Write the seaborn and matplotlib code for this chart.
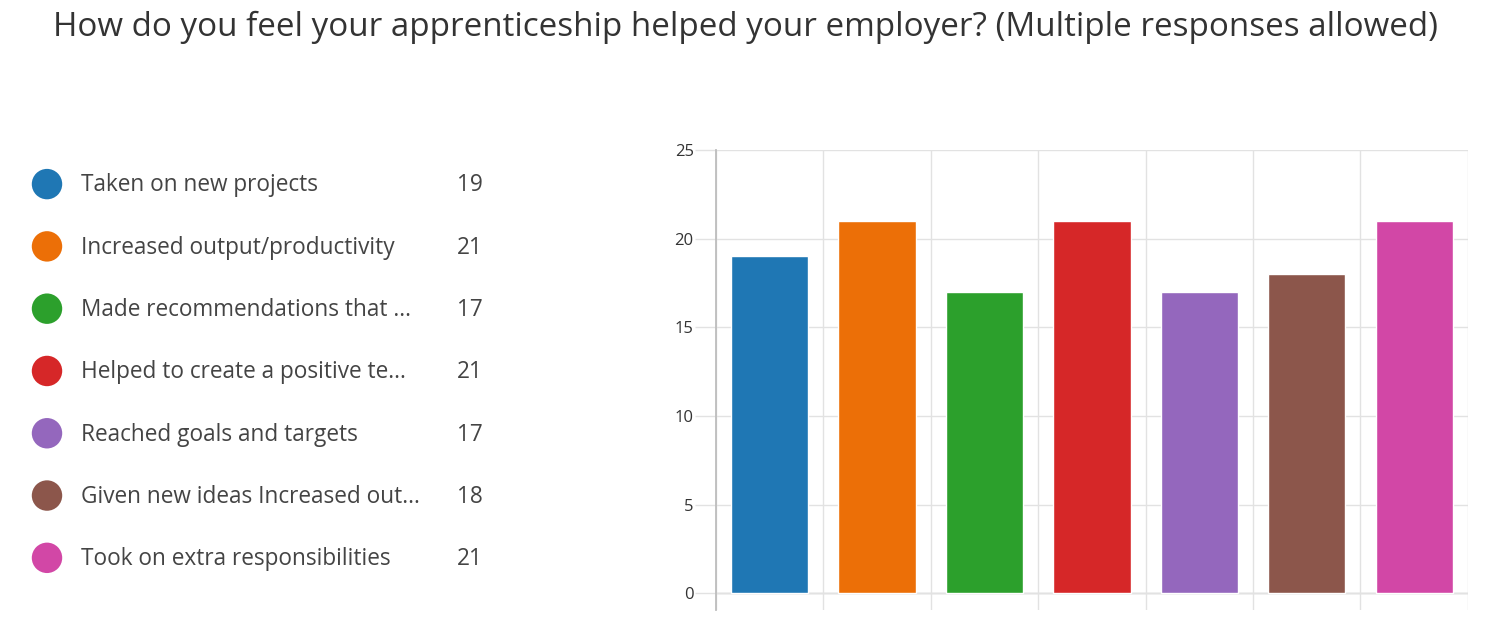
import pandas as pd
import matplotlib.pyplot as plt
import seaborn as sns

sns.set_style('white')
plt.rcParams['font.family'] = ['Open Sans', 'DejaVu Sans']

title = 'How do you feel your apprenticeship helped your employer? (Multiple responses allowed)'
labels = ['Taken on new projects', 'Increased output/productivity', 'Made recommendations that ...',
          'Helped to create a positive te...', 'Reached goals and targets',
          'Given new ideas Increased out...', 'Took on extra responsibilities']
counts = [19, 21, 17, 21, 17, 18, 21]
colors = ['#1f77b4', '#ec6f07', '#2ca02c', '#d62728', '#9467bd', '#8c564b', '#d247a6']
y_ticks = [0, 5, 10, 15, 20, 25]

df = pd.DataFrame({'label': labels, 'count': counts, 'row': range(len(labels))})

fig = plt.figure(figsize=(15, 6.19), dpi=100)
fig.text(0.497, 0.955, title, ha='center', va='center', fontsize=23.9, color='#333333')

# bar chart
ax = fig.add_axes([0.4773, 0.0145, 0.5013, 0.7432])
sns.barplot(x='label', y='count', hue='label', data=df, palette=colors, ax=ax,
            width=0.72, legend=False, saturation=1)
ax.set_ylim(-0.95, 25)
ax.set_xlim(-0.5, len(labels) - 0.5)
ax.set_yticks(y_ticks)
ax.set_xticks([i - 0.5 for i in range(len(labels) + 1)], minor=True)
ax.set_xticks([])
ax.set_xlabel('')
ax.set_ylabel('')
ax.tick_params(axis='y', length=15, width=1, color='#e2e2e2', pad=1,
               labelsize=12, labelcolor='#333333', left=True)
ax.tick_params(axis='x', which='minor', length=0)
ax.grid(axis='y', color='#e2e2e2', linewidth=1)
ax.grid(axis='x', which='minor', color='#e2e2e2', linewidth=1)
ax.axhline(0, color='#c4c4c4', linewidth=1, zorder=0.5)
ax.set_axisbelow(True)
for side in ['top', 'right', 'bottom']:
    ax.spines[side].set_visible(False)
ax.spines['left'].set_color('#bdbdbd')
ax.spines['left'].set_linewidth(1.3)

# legend list with counts
lax = fig.add_axes([0, 0.0485, 500 / 1500, 0.7044])
sns.scatterplot(x=[47] * len(labels), y='row', hue='label', data=df, palette=colors,
                s=480, linewidth=0, ax=lax, legend=False)
for r, (lab, c) in enumerate(zip(labels, counts)):
    lax.text(81, r + 0.02, lab, ha='left', va='center', fontsize=16.3, color='#444444')
    lax.text(483, r + 0.02, str(c), ha='right', va='center', fontsize=16.3, color='#444444')
lax.set_xlim(0, 500)
lax.set_ylim(len(labels) - 0.5, -0.5)
lax.axis('off')

plt.savefig('out.png', dpi=100)
